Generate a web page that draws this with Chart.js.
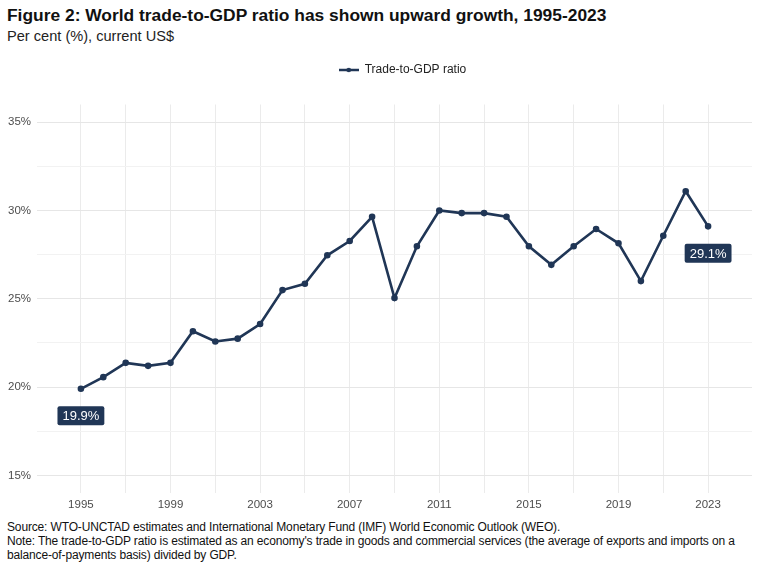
<!DOCTYPE html>
<html>
<head>
<meta charset="utf-8">
<script src="https://cdn.jsdelivr.net/npm/chart.js@4.4.1/dist/chart.umd.min.js"></script>
<style>
  body { margin: 0; background: #fff; font-family: "Liberation Sans", Arial, sans-serif; }
  #wrap { position: relative; width: 760px; height: 577px; overflow: hidden; }
  #titulo { position: absolute; left: 7px; top: 5px; font-size: 17.4px; font-weight: bold; line-height: 20px; color: #111; }
  #sub { position: absolute; left: 7px; top: 27px; font-size: 14.6px; line-height: 18px; color: #222; }
  #box { position: absolute; left: 0; top: 47px; width: 760px; height: 468px; }
  #rodape { position: absolute; left: 7px; top: 520px; font-size: 12px; line-height: 14px; color: #111; letter-spacing: -0.15px; }
</style>
</head>
<body>
<div id="wrap">
  <div id="titulo">Figure 2: World trade-to-GDP ratio has shown upward growth, 1995-2023</div>
  <div id="sub">Per cent (%), current US$</div>
  <div id="box"><canvas id="grafico"></canvas></div>
  <div id="rodape">Source: WTO-UNCTAD estimates and International Monetary Fund (IMF) World Economic Outlook (WEO).<br>Note: The trade-to-GDP ratio is estimated as an economy's trade in goods and commercial services (the average of exports and imports on a<br>balance-of-payments basis) divided by GDP.</div>
</div>
<script>
const anos = [1995, 1996, 1997, 1998, 1999, 2000, 2001, 2002, 2003, 2004, 2005, 2006, 2007, 2008, 2009,
  2010, 2011, 2012, 2013, 2014, 2015, 2016, 2017, 2018, 2019, 2020, 2021, 2022, 2023];
const ratio = [19.9, 20.56, 21.37, 21.2, 21.37, 23.16, 22.58, 22.74, 23.57, 25.49, 25.85, 27.46, 28.27, 29.64, 25.04,
  27.97, 30.0, 29.85, 29.85, 29.64, 27.97, 26.92, 27.97, 28.95, 28.14, 26.0, 28.57, 31.09, 29.1];
const anosLabel = [1995, 1999, 2003, 2007, 2011, 2015, 2019, 2023];
const anosGrade = [1995, 1997, 1999, 2001, 2003, 2005, 2007, 2009, 2011, 2013, 2015, 2017, 2019, 2021, 2023];
const yTicks = [15, 17.5, 20, 22.5, 25, 27.5, 30, 32.5, 35];
const yLabels = [15, 20, 25, 30, 35];

const cor = '#203656';

// legend marker: line with a dot
const marca = document.createElement('canvas');
marca.width = 20; marca.height = 6;
const mc = marca.getContext('2d');
mc.strokeStyle = cor; mc.lineWidth = 2.5;
mc.beginPath(); mc.moveTo(0, 3); mc.lineTo(20, 3); mc.stroke();
mc.fillStyle = cor; mc.beginPath(); mc.arc(10, 3, 2.3, 0, Math.PI * 2); mc.fill();

const rotulos = {
  id: 'rotulos',
  afterDatasetsDraw(chart) {
    const ctx = chart.ctx;
    const pts = chart.getDatasetMeta(0).data;
    [0, pts.length - 1].forEach(i => {
      const p = pts[i];
      const txt = ratio[i].toFixed(1) + '%';
      ctx.save();
      ctx.font = '13px "Liberation Sans", Arial, sans-serif';
      const w = ctx.measureText(txt).width + 10;
      const h = 19;
      const cx = p.x, cy = p.y + 27;
      ctx.fillStyle = cor;
      ctx.beginPath();
      ctx.roundRect(cx - w / 2, cy - h / 2, w, h, 2);
      ctx.fill();
      ctx.fillStyle = '#fff';
      ctx.textAlign = 'center';
      ctx.textBaseline = 'middle';
      ctx.fillText(txt, cx, cy + 1);
      ctx.restore();
    });
  }
};

// legend: extra space below and centred over the plot panel
const ajustaLegenda = {
  id: 'ajustaLegenda',
  beforeInit(chart) {
    const fitOrig = chart.legend.fit;
    chart.legend.fit = function () {
      fitOrig.bind(chart.legend)();
      this.height += 18.5;
    };
  },
  afterLayout(chart) {
    const a = chart.chartArea;
    chart.legend.left = a.left + 8;
    chart.legend.right = a.right + 8;
  }
};

new Chart(document.getElementById('grafico'), {
  type: 'line',
  data: {
    datasets: [{
      label: 'Trade-to-GDP ratio',
      data: anos.map((a, i) => ({ x: a, y: ratio[i] })),
      borderColor: cor,
      backgroundColor: cor,
      borderWidth: 2.6,
      pointRadius: 2,
      pointHoverRadius: 2,
      tension: 0
    }]
  },
  options: {
    responsive: true,
    maintainAspectRatio: false,
    animation: false,
    layout: { padding: { left: 0, right: 8, top: 0, bottom: 0 } },
    plugins: {
      legend: {
        position: 'top',
        labels: {
          usePointStyle: true,
          pointStyle: marca,
          pointStyleWidth: 20,
          padding: 17,
          color: '#222',
          font: { family: '"Liberation Sans", Arial, sans-serif', size: 12 }
        }
      },
      tooltip: { enabled: false }
    },
    scales: {
      x: {
        type: 'linear',
        min: 1993.04,
        max: 2024.96,
        border: { display: false },
        afterBuildTicks: s => { s.ticks = anosGrade.map(v => ({ value: v })); },
        afterFit: s => { s.height = 22; },
        ticks: {
          autoSkip: false,
          maxRotation: 0,
          padding: 5,
          color: '#4d4d4d',
          font: { family: '"Liberation Sans", Arial, sans-serif', size: 11.5 },
          callback: v => anosLabel.includes(v) ? String(v) : ''
        },
        grid: { color: '#ebebeb', drawTicks: false }
      },
      y: {
        min: 14,
        max: 36,
        border: { display: false },
        afterBuildTicks: s => { s.ticks = yTicks.map(v => ({ value: v })); },
        afterFit: s => { s.width = 37; },
        ticks: {
          autoSkip: false,
          padding: 6,
          color: '#4d4d4d',
          font: { family: '"Liberation Sans", Arial, sans-serif', size: 11.5 },
          callback: v => yLabels.includes(v) ? v + '%' : ''
        },
        grid: {
          drawTicks: false,
          color: c => yLabels.includes(c.tick.value) ? '#e6e6e6' : '#f2f2f2'
        }
      }
    }
  },
  plugins: [rotulos, ajustaLegenda]
});
</script>
</body>
</html>
